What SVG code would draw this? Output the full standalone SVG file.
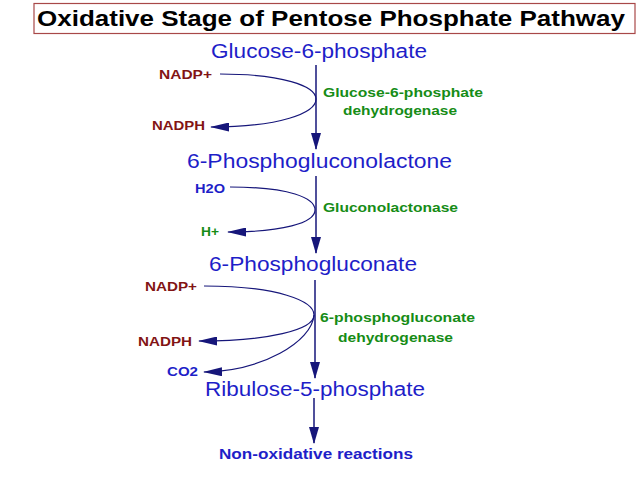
<svg xmlns="http://www.w3.org/2000/svg" width="638" height="479" viewBox="0 0 638 479">
<style>
text{font-family:"Liberation Sans",Arial,sans-serif;}
.title{font-size:22px;font-weight:bold;fill:#000;}
.met{font-size:20px;fill:#1e1ec8;}
.end{font-size:15px;font-weight:bold;fill:#1e1ec8;}
.red{font-size:12.5px;font-weight:bold;fill:#821414;}
.blu{font-size:12.5px;font-weight:bold;fill:#1e1ec8;}
.grn{font-size:12.5px;font-weight:bold;fill:#168c16;}
.enz{font-size:13px;font-weight:bold;fill:#168c16;}
.ln{fill:none;stroke:#16167a;stroke-width:1.5;}
.cv{fill:none;stroke:#16167a;stroke-width:1.2;}
</style>
<defs>
<marker id="ah" viewBox="0 0 17 10" refX="16" refY="5" markerWidth="17" markerHeight="10" markerUnits="userSpaceOnUse" orient="auto">
<path d="M0,0 L17,5 L0,10 Z" fill="#16167a"/>
</marker>
<marker id="ahs" viewBox="0 0 19 9" refX="18" refY="4.5" markerWidth="19" markerHeight="9" markerUnits="userSpaceOnUse" orient="auto">
<path d="M0,0 L19,4.5 L0,9 Z" fill="#16167a"/>
</marker>
</defs>
<rect width="638" height="479" fill="#fff"/>
<g id="title">
<rect x="34" y="3.5" width="601" height="30" fill="#fff" stroke="#a84848" stroke-width="1.2"/>
<text class="title" x="37" y="25.5" textLength="588" lengthAdjust="spacingAndGlyphs">Oxidative Stage of Pentose Phosphate Pathway</text>
</g>
<g id="connectors">
<path class="ln" d="M316,65 L316,149" marker-end="url(#ah)"/>
<path class="ln" d="M316,176 L316,253" marker-end="url(#ah)"/>
<path class="ln" d="M315,280 L315,378" marker-end="url(#ah)"/>
<path class="ln" d="M314,398 L314,443" marker-end="url(#ah)"/>
<path class="cv" d="M220,74 C282,74 316,86 316,99 C316,113 280,127 211,127" marker-end="url(#ahs)"/>
<path class="cv" d="M230,187 C290,187 315,198 315,210 C315,223 282,232 228,232" marker-end="url(#ahs)"/>
<path class="cv" d="M204,286 C278,286 314,301 314,315 C314,330 268,341 199,341" marker-end="url(#ahs)"/>
<path class="cv" d="M314,315 C312,342 262,371 204,372" marker-end="url(#ahs)"/>
</g>
<g id="glucose-6-phosphate">
<text class="met" x="211" y="58" textLength="216" lengthAdjust="spacingAndGlyphs">Glucose-6-phosphate</text>
</g>
<g id="nadp1"><text class="red" x="159" y="79" textLength="53" lengthAdjust="spacingAndGlyphs">NADP+</text></g>
<g id="nadph1"><text class="red" x="152" y="130" textLength="53" lengthAdjust="spacingAndGlyphs">NADPH</text></g>
<g id="enzyme1">
<text class="enz" x="323" y="97" textLength="160" lengthAdjust="spacingAndGlyphs">Glucose-6-phosphate</text>
<text class="enz" x="343" y="115" textLength="114" lengthAdjust="spacingAndGlyphs">dehydrogenase</text>
</g>
<g id="phosphogluconolactone">
<text class="met" x="187" y="168" textLength="265" lengthAdjust="spacingAndGlyphs">6-Phosphogluconolactone</text>
</g>
<g id="h2o"><text class="blu" x="195" y="193" textLength="30" lengthAdjust="spacingAndGlyphs">H2O</text></g>
<g id="hplus"><text class="grn" x="201" y="236" textLength="18" lengthAdjust="spacingAndGlyphs">H+</text></g>
<g id="enzyme2">
<text class="enz" x="323" y="212" textLength="135" lengthAdjust="spacingAndGlyphs">Gluconolactonase</text>
</g>
<g id="phosphogluconate">
<text class="met" x="209" y="271" textLength="208" lengthAdjust="spacingAndGlyphs">6-Phosphogluconate</text>
</g>
<g id="nadp2"><text class="red" x="145" y="291" textLength="52" lengthAdjust="spacingAndGlyphs">NADP+</text></g>
<g id="nadph2"><text class="red" x="138" y="346" textLength="54" lengthAdjust="spacingAndGlyphs">NADPH</text></g>
<g id="co2"><text class="blu" x="167" y="376" textLength="31" lengthAdjust="spacingAndGlyphs">CO2</text></g>
<g id="enzyme3">
<text class="enz" x="320" y="322" textLength="155" lengthAdjust="spacingAndGlyphs">6-phosphogluconate</text>
<text class="enz" x="338" y="342" textLength="115" lengthAdjust="spacingAndGlyphs">dehydrogenase</text>
</g>
<g id="ribulose-5-phosphate">
<text class="met" x="205" y="396" textLength="220" lengthAdjust="spacingAndGlyphs">Ribulose-5-phosphate</text>
</g>
<g id="non-oxidative">
<text class="end" x="219" y="459" textLength="194" lengthAdjust="spacingAndGlyphs">Non-oxidative reactions</text>
</g>
</svg>
